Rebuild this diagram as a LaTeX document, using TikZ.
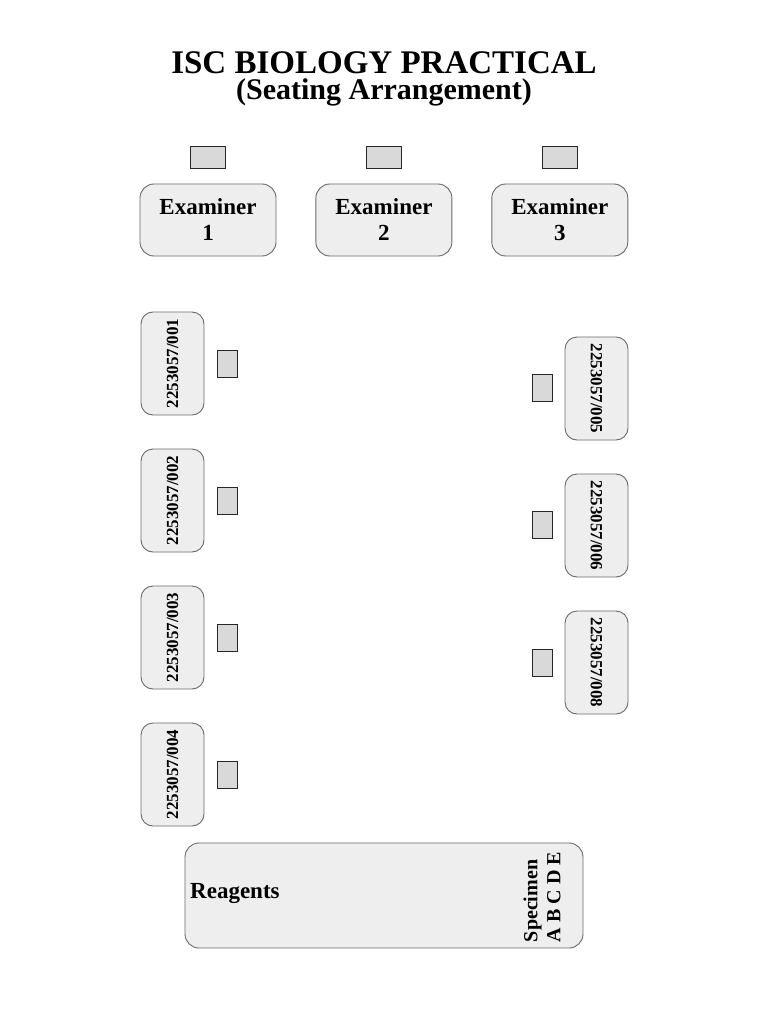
\documentclass[tikz,border=0pt]{standalone}
\usepackage{fontspec}
\setmainfont{Liberation Serif}
\usetikzlibrary{positioning}
\definecolor{deskfill}{HTML}{EEEEEE}
\definecolor{deskedge}{HTML}{6A6A6A}
\definecolor{tagfill}{HTML}{D9D9D9}

\begin{document}
\begin{tikzpicture}[x=1pt, y=-1pt,
    desk/.style={draw=deskedge, fill=deskfill, rounded corners=14pt,
                 line width=0.9pt, inner sep=0pt, align=center},
    exam/.style={desk, minimum width=136pt, minimum height=72pt,
                 font=\fontsize{23}{26}\selectfont\bfseries},
    seat/.style={desk, rounded corners=12pt, minimum width=103pt,
                 minimum height=63pt, font=\fontsize{17}{20}\selectfont\bfseries},
    tag/.style={draw=black!85, fill=tagfill, line width=0.8pt, inner sep=0pt},
    chair/.style={tag, minimum width=20pt, minimum height=27pt}
  ]
  \useasboundingbox (0,0) rectangle (768,1024);

  % Title
  \node[font=\fontsize{33}{36}\selectfont\bfseries, anchor=base, inner sep=0pt]
    (title) at (384,74) {ISC BIOLOGY PRACTICAL};
  \node[font=\fontsize{30}{34}\selectfont\bfseries, anchor=base, inner sep=0pt]
    (subtitle) at (384,100) {(Seating Arrangement)};

  % Examiners
  \node[exam] (ex1) at (208,220) {Examiner\\1};
  \node[exam, right=39pt of ex1] (ex2) {Examiner\\2};
  \node[exam, right=39pt of ex2] (ex3) {Examiner\\3};
  \node[tag, minimum width=35pt, minimum height=22pt, above=15pt of ex1] (ext1) {};
  \node[tag, minimum width=35pt, minimum height=22pt, above=15pt of ex2] (ext2) {};
  \node[tag, minimum width=35pt, minimum height=22pt, above=15pt of ex3] (ext3) {};

  % Candidates, left row
  \node[seat, rotate=90] (c1) at (172.5,363.5) {2253057/001};
  \node[seat, rotate=90] (c2) at (172.5,500.5) {2253057/002};
  \node[seat, rotate=90] (c3) at (172.5,637.5) {2253057/003};
  \node[seat, rotate=90] (c4) at (172.5,774.5) {2253057/004};
  \node[chair] (ch1) at (227,363.5) {};
  \node[chair] (ch2) at (227,500.5) {};
  \node[chair] (ch3) at (227,637.5) {};
  \node[chair] (ch4) at (227,774.5) {};

  % Candidates, right row
  \node[seat, rotate=-90] (c5) at (596.5,388.5) {2253057/005};
  \node[seat, rotate=-90] (c6) at (596.5,525.5) {2253057/006};
  \node[seat, rotate=-90] (c8) at (596.5,662.5) {2253057/008};
  \node[chair] (ch5) at (542,387.5) {};
  \node[chair] (ch6) at (542,524.5) {};
  \node[chair] (ch8) at (542,662.5) {};

  % Bench
  \node[desk, minimum width=398pt, minimum height=105pt] (bench) at (384,895.5) {};
  \node[font=\fontsize{23}{26}\selectfont\bfseries, anchor=west, inner sep=0pt]
    (reag) at (190,893) {Reagents};
  \node[font=\fontsize{20}{23}\selectfont\bfseries, rotate=90, align=left, inner sep=0pt]
    (spec) at (542,897) {Specimen\\A B C D E};
\end{tikzpicture}
\end{document}
